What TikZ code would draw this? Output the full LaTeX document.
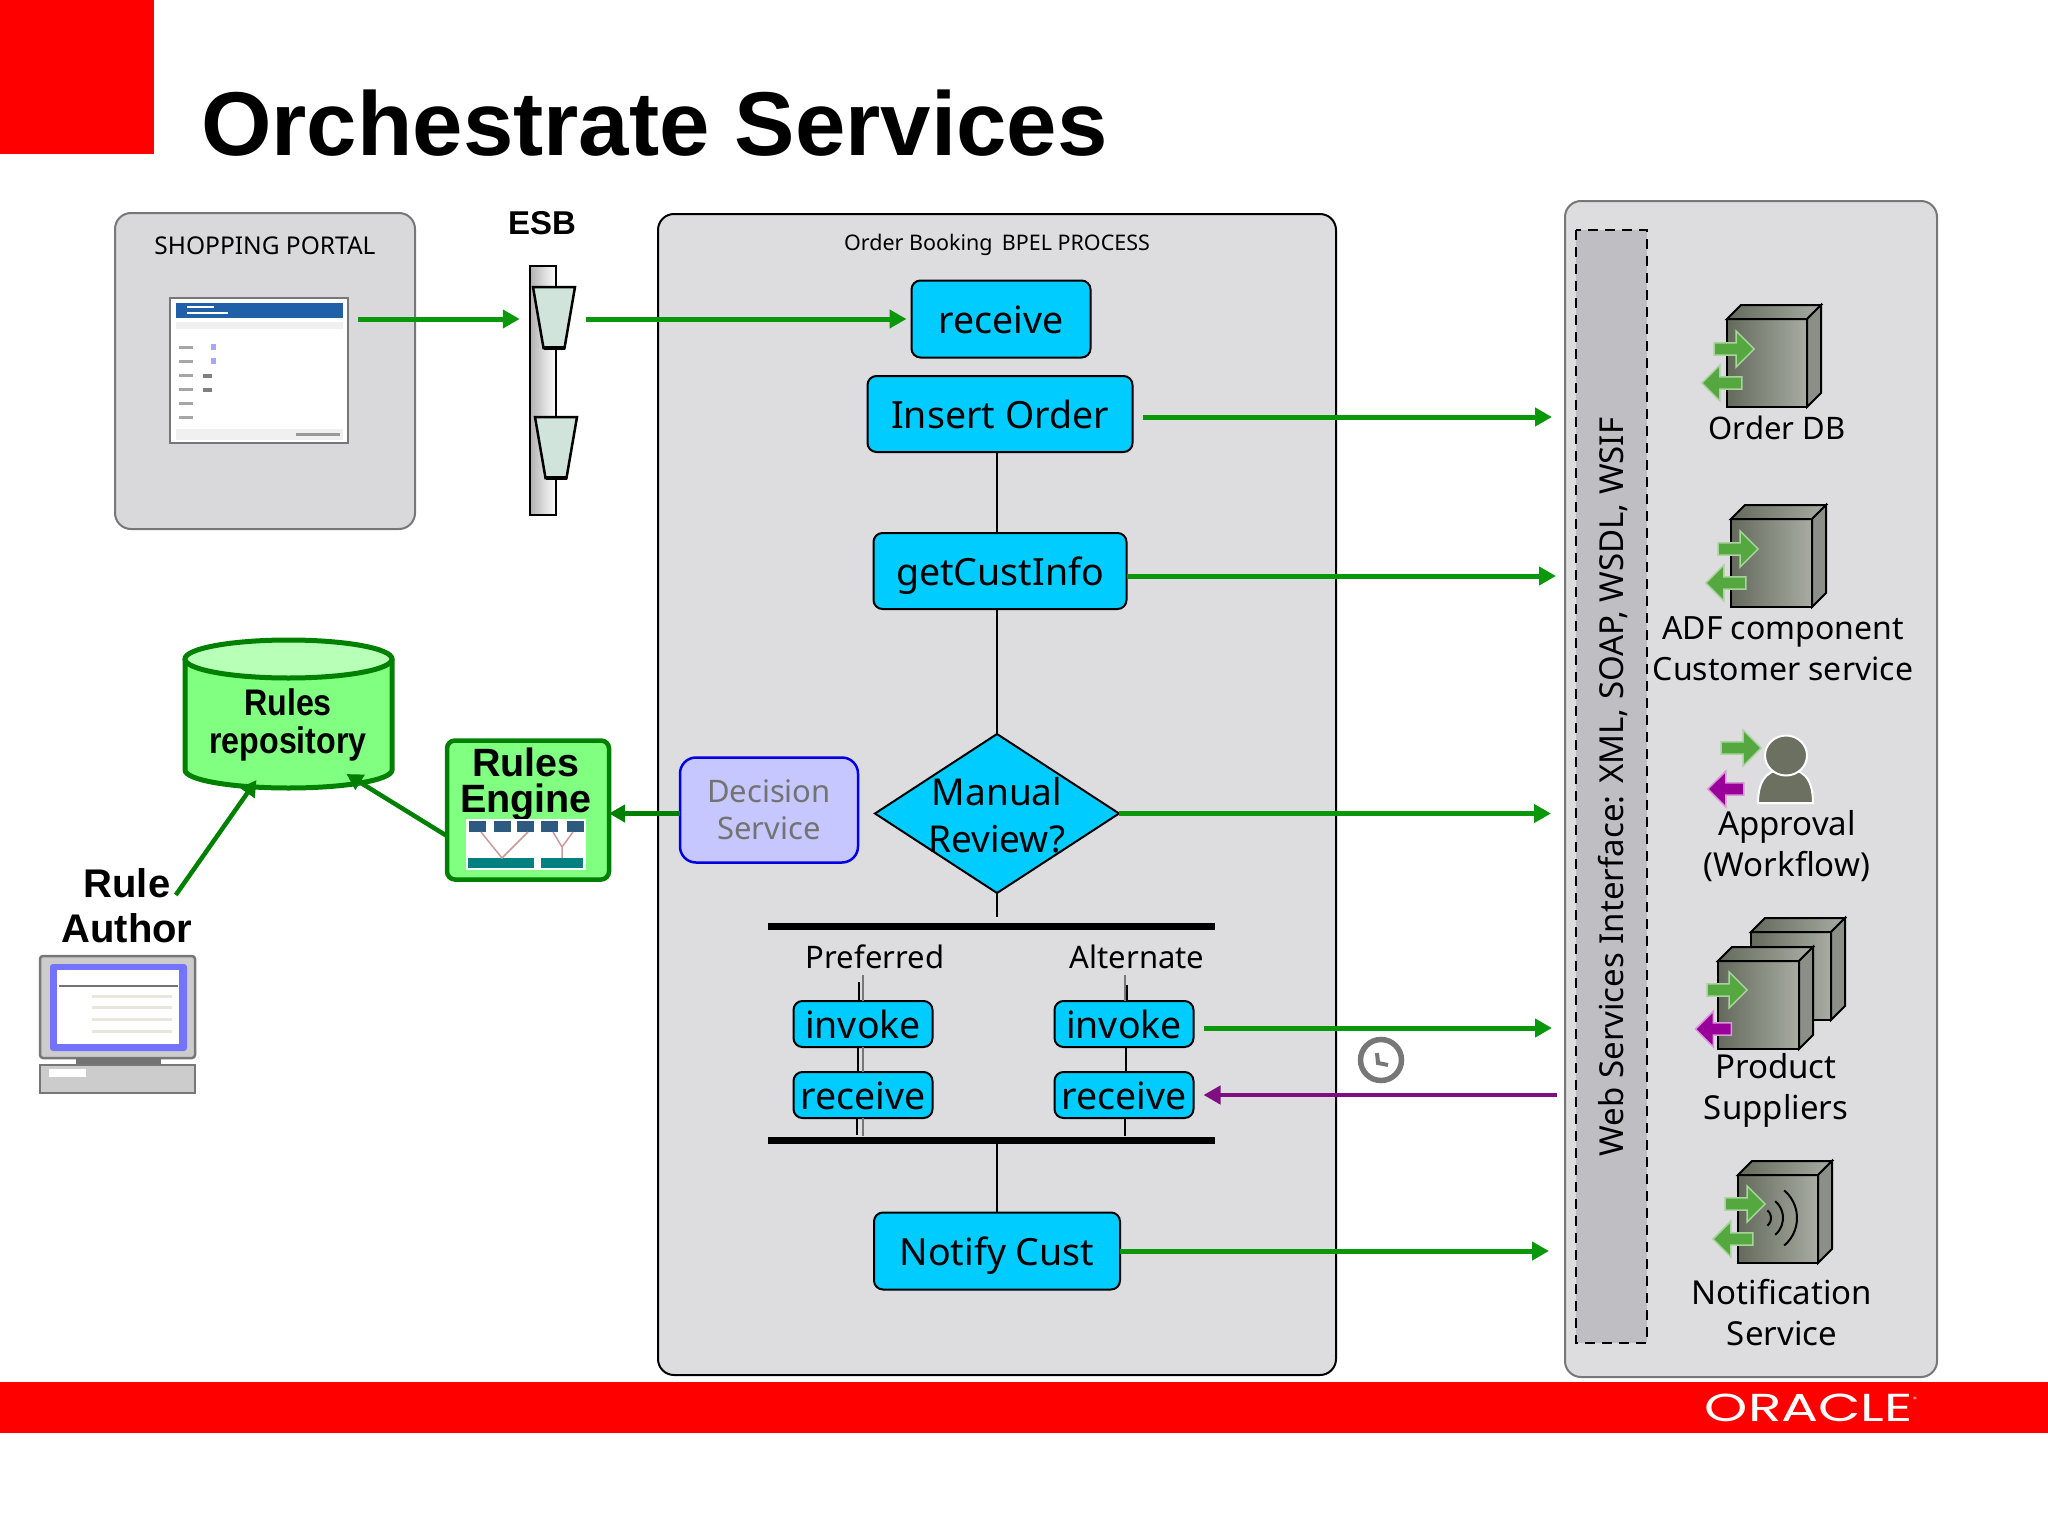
\documentclass[tikz,border=0pt]{standalone}
\usepackage{fontspec}
\setmainfont{Noto Sans}
\newfontfamily\headfont{Liberation Sans}
\newfontfamily\logofont{Poppins}
\usetikzlibrary{arrows.meta,shapes.geometric,shapes.arrows}

\definecolor{oraclered}{HTML}{FF0000}
\definecolor{panelgray}{HTML}{DDDCDE}
\definecolor{edgegray}{HTML}{777777}
\definecolor{stepcyan}{HTML}{00CCFF}
\definecolor{flowgreen}{HTML}{0A970A}
\definecolor{flowpurple}{HTML}{7F0F80}
\definecolor{rulegreen}{HTML}{80FF80}
\definecolor{ruleedge}{HTML}{008000}
\definecolor{repotop}{HTML}{B8FFB8}
\definecolor{icongreen}{HTML}{55A83F}
\definecolor{iconpurple}{HTML}{990099}
\definecolor{persongray}{HTML}{6B7061}
\definecolor{gatefill}{HTML}{D0E4DC}
\definecolor{cubedark}{HTML}{636A5B}
\definecolor{cubelight}{HTML}{A8ACA3}
\definecolor{cubeside}{HTML}{8B8F87}
\definecolor{wsgray}{HTML}{BFBEC2}
\definecolor{shotblue}{HTML}{2060A8}
\definecolor{slate}{HTML}{2F5A80}

\newcommand{\fsz}[2]{\fontsize{#1}{#2}\selectfont}
% front face as a node, top and side hung on its corners
\newcommand{\cubeicon}[5]{
    \node[cubeface,minimum width=#4pt,minimum height=#5pt] (#1) at (#2,#3) {};
    \draw[cubeedge,left color=cubedark,right color=cubelight] (#1.north west) -- ++(14,-14) -- ++(#4,0) -- (#1.north east) -- cycle;
    \draw[cubeedge,fill=cubeside] (#1.north east) -- ++(14,-14) -- ++(0,#5) -- (#1.south east) -- cycle;
}
% tapered ESB gate
\newcommand{\esbgate}[3]{
    \node[minimum width=42pt,minimum height=61pt,inner sep=0pt,outer sep=0pt] (#1) at (#2,#3) {};
    \draw[line width=2.5pt,fill=gatefill] (#1.north west) -- (#1.north east) -- ([xshift=-10.5pt]#1.south east) -- ([xshift=10.5pt]#1.south west) -- cycle;
    \draw[line width=3.5pt] ([xshift=10.5pt]#1.south west) -- ([xshift=-10.5pt]#1.south east);
}

\tikzset{
    panel/.style={draw,rounded corners=16pt,fill=panelgray,line width=2pt,inner sep=0pt,outer sep=0pt},
    stepbox/.style={draw,fill=stepcyan,rounded corners=9pt,line width=2pt,inner sep=0pt,outer sep=0pt,text height=36pt,text depth=8pt,font=\fsz{37.5}{44}},
    thinline/.style={draw=black,line width=2pt},
    flow/.style={draw=flowgreen,line width=5pt,-{Triangle[length=17pt,width=18pt]}},
    backflow/.style={draw=flowpurple,line width=4.5pt,-{Triangle[length=17pt,width=18pt]}},
    ruleflow/.style={draw=ruleedge,line width=4.5pt,-{Triangle[length=16pt,width=17pt]}},
    label/.style={inner sep=0pt,align=center,font=\fsz{33}{41}},
    syncbar/.style={fill=black,inner sep=0pt,minimum width=447pt,minimum height=7pt},
    cubeface/.style={cubeedge,left color=cubedark,right color=cubelight,inner sep=0pt,outer sep=0pt},
    cubeedge/.style={draw=black,line width=2pt},
    goicon/.style={single arrow,fill=icongreen,draw=icongreen!50!white,line width=1.5pt,minimum width=36pt,minimum height=40pt,inner sep=5pt,single arrow head extend=11pt},
    backicon/.style={goicon,shape border rotate=180},
    purpleicon/.style={backicon,fill=iconpurple,draw=iconpurple!40!white,minimum height=36pt},
    headtext/.style={inner sep=0pt,align=center,font=\headfont\bfseries\fsz{40}{45}},
}

\begin{document}
\begin{tikzpicture}[x=1pt,y=-1pt]
    \useasboundingbox (0,0) rectangle (2048,1536);

    % Slide furniture
    \fill[oraclered] (0,0) rectangle (154,154);
    \fill[oraclered] (0,1382) rectangle (2048,1433);
    \node[anchor=base west,inner sep=0pt,font=\headfont\bfseries\fsz{90.6}{90}] (title) at (201,156) {Orchestrate Services};
    \node[inner sep=0pt,text=white,xscale=1.41,font=\logofont\fsz{39}{39}] (logo) at (1811,1408) {ORACLE{\fsz{6}{6}\raisebox{20pt}{®}}};

    % Shopping portal
    \node[panel,draw=edgegray,fill=black!2!panelgray,minimum width=300pt,minimum height=316pt] (portal) at (265,371) {};
    \node[label,font=\fsz{24.5}{30}] (portaltext) at (265,246) {SHOPPING PORTAL};
    \node[draw=edgegray,line width=2.5pt,fill=white,minimum width=178pt,minimum height=145pt,inner sep=0pt] (shot) at (259,370.5) {};
    \fill[shotblue] (176,303) rectangle (343,318);
    \fill[white] (187,306) rectangle (214,308);
    \fill[white] (187,312) rectangle (228,313.5);
    \fill[black!6] (176,322) rectangle (343,329);
    \fill[black!6] (176,429) rectangle (343,440);
    \foreach \rowy in {346,360,374,388,402,416}
        \fill[black!35] (179,\rowy) rectangle (193,\rowy+3);
    \foreach \rowy in {346,360}
        \fill[blue!35] (211,\rowy-2) rectangle (216,\rowy+4);
    \foreach \rowy in {374,388}
        \fill[black!50] (203,\rowy) rectangle (212,\rowy+4);
    \fill[black!40] (296,433) rectangle (340,436);

    % ESB
    \node[headtext,font=\headfont\bfseries\fsz{33}{33}] (esbtext) at (542,223) {ESB};
    \node[draw,line width=2.5pt,left color=black!30,right color=white,minimum width=26pt,minimum height=249pt,inner sep=0pt] (esb) at (543,390.5) {};
    \esbgate{gatetop}{554}{317.5}
    \esbgate{gatelow}{556}{447.5}

    % Order Booking process
    \node[panel,minimum width=678pt,minimum height=1161pt] (process) at (997,794.5) {};
    \node[label,font=\fsz{21.5}{28}] (processtext) at (997,245) {Order Booking\, BPEL PROCESS};
    \node[stepbox,minimum width=179pt,minimum height=77pt] (receive) at (1001,319) {receive};
    \node[stepbox,minimum width=265pt,minimum height=76pt] (insert) at (1000,414) {Insert Order};
    \node[stepbox,minimum width=253pt,minimum height=76pt] (getcust) at (1000,571) {getCustInfo};
    \node[diamond,draw,fill=stepcyan,line width=2pt,inner sep=0pt,outer sep=0pt,aspect=1.53,minimum width=244pt,minimum height=159pt] (review) at (997,813.5) {};
    \node[label,font=\fsz{37}{47}] (reviewtext) at (997,815) {Manual\\Review?};
    \node[draw=blue!90!black,line width=2.5pt,fill=blue!22,rounded corners=16pt,minimum width=178pt,minimum height=105pt,inner sep=0pt,outer sep=0pt,text=black!55,align=center,font=\fsz{31}{37}] (decision) at (769,810) {Decision\\Service};
    \node[syncbar] (forkbar) at (991,926) {};
    \node[syncbar] (joinbar) at (991,1140) {};
    \node[label,font=\fsz{31}{36}] (preferred) at (875,957) {Preferred};
    \node[label,font=\fsz{31}{36}] (alternate) at (1137,957) {Alternate};
    \node[stepbox,minimum width=139pt,minimum height=46pt] (invokel) at (863,1024) {invoke};
    \node[stepbox,minimum width=139pt,minimum height=46pt] (receivel) at (863,1095) {receive};
    \node[stepbox,minimum width=139pt,minimum height=46pt] (invoker) at (1124,1024) {invoke};
    \node[stepbox,minimum width=139pt,minimum height=46pt] (receiver) at (1124,1095) {receive};
    \node[stepbox,minimum width=246pt,minimum height=77pt] (notify) at (997,1251) {Notify Cust};

    % Process connections
    \draw[thinline] (insert.south -| review.north) -- (getcust.north -| review.north);
    \draw[thinline] (getcust.south -| review.north) -- (review.north);
    \draw[thinline] (review.south) -- ++(0,24);
    \draw[thinline] (joinbar.south -| notify.north) -- (notify.north);
    \draw[thinline] ([xshift=-4pt]invokel.north) -- ++(0,-19);
    \draw[edgegray,line width=1.5pt] (invokel.north) -- ++(0,-26);
    \draw[thinline] ([xshift=-5pt]invokel.south) -- ([xshift=-5pt]receivel.north);
    \draw[edgegray,line width=1.5pt] (invokel.south) -- (receivel.north);
    \draw[thinline] ([xshift=-6pt]receivel.south) -- ++(0,17);
    \draw[edgegray,line width=1.5pt] (receivel.south) -- (receivel.south |- joinbar.north);
    \draw[edgegray,line width=1.5pt] ([xshift=1pt]invoker.north) -- ++(0,-26);
    \draw[thinline] ([xshift=3pt]invoker.north) -- ++(0,-16);
    \draw[thinline] ([xshift=2pt]invoker.south) -- ([xshift=2pt]receiver.north);
    \draw[thinline] ([xshift=1pt]receiver.south) -- ([xshift=1pt]receiver.south |- joinbar.north);

    % Clock on the callback
    \node[circle,draw=edgegray,line width=5.5pt,fill=white,minimum size=41pt,inner sep=0pt] (clock) at (1381,1060) {};
    \draw[edgegray,line width=4pt] ([shift={(-4pt,7pt)}]clock.center) -- ([shift={(-3pt,-3pt)}]clock.center) -- ([shift={(7pt,-5pt)}]clock.center);

    % Rules side
    \node[minimum width=207pt,minimum height=148pt,inner sep=0pt,outer sep=0pt] (repo) at (288.5,714) {};
    \draw[ruleedge,line width=5pt,fill=rulegreen] ([yshift=-19pt]repo.north west) -- ([yshift=18pt]repo.south west) arc[start angle=180,end angle=360,x radius=103.5pt,y radius=18pt] -- ([yshift=-19pt]repo.north east);
    \draw[ruleedge,line width=5pt,fill=repotop] ([yshift=-19pt]repo.north) ellipse[x radius=103.5pt,y radius=19pt];
    \node[headtext,xscale=0.87,font=\headfont\bfseries\fsz{37}{38}] (repotext) at (288,725) {Rules\\repository};
    \node[draw=ruleedge,line width=4.5pt,fill=rulegreen,rounded corners=8pt,minimum width=162pt,minimum height=139pt,inner sep=0pt,outer sep=0pt] (engine) at (528,810) {};
    \node[headtext,font=\headfont\bfseries\fsz{39.5}{36}] (enginetext) at (526,784) {Rules\\Engine};
    \node[fill=white,minimum width=120pt,minimum height=51pt,inner sep=0pt] (engineshot) at (526,844) {};
    \foreach \boxx in {477,502,525,549,575}
        \fill[slate] (\boxx-8.5,821) rectangle (\boxx+8.5,832);
    \fill[teal] (468,858) rectangle (534,868);
    \fill[teal] (541,858) rectangle (583,868);
    \draw[red!30!gray!60,line width=1.5pt] (481,832) -- (502,858) -- (528,832);
    \draw[red!30!gray!60,line width=1.5pt] (553,832) -- (562,847) -- (573,832) (562,847) -- (562,858);
    \node[headtext] (ruleauthor) at (127,906) {Rule\\Author};

    % Author workstation
    \node[draw=edgegray,line width=2.5pt,fill=black!20,rounded corners=3pt,minimum width=155pt,minimum height=102pt,inner sep=0pt] (monitor) at (117.5,1007) {};
    \node[fill=blue!55!white,rounded corners=3pt,minimum width=137pt,minimum height=87pt,inner sep=0pt] (screen) at (118.5,1007.5) {};
    \node[fill=white,minimum width=122pt,minimum height=74pt,inner sep=0pt] (screenshot) at (118,1007) {};
    \fill[black!55] (59,985) rectangle (178,987);
    \foreach \rowy in {995,1006,1018,1030}
        \fill[yellow!30!black!15] (92,\rowy) rectangle (172,\rowy+3);
    \node[fill=black!55,minimum width=85pt,minimum height=7pt,inner sep=0pt] (neck) at (118.5,1061.5) {};
    \node[draw=edgegray,line width=2.5pt,fill=black!20,minimum width=155pt,minimum height=28pt,inner sep=0pt] (keyboard) at (117.5,1079) {};
    \fill[white] (49,1069) rectangle (86,1077);

    % Web services panel
    \node[panel,draw=edgegray,minimum width=372pt,minimum height=1176pt] (services) at (1751,789) {};
    \draw[line width=2.5pt,dash pattern=on 10pt off 7pt,fill=wsgray] (1576,230) rectangle (1647,1343);
    \node[rotate=90,inner sep=0pt,font=\fsz{33}{40}] (wsbar) at (1613,787) {Web Services Interface: XML, SOAP, WSDL, WSIF};

    % Services
    \cubeicon{orderdb}{1767}{363}{80}{88}
    \node[goicon] (orderin) at (1731,349) {};
    \node[backicon] (orderout) at (1725,383) {};
    \node[label,font=\fsz{31}{41}] (ordertext) at (1777,428) {Order DB};

    \cubeicon{adf}{1771.5}{563}{81}{88}
    \node[goicon] (adfin) at (1735,549) {};
    \node[backicon] (adfout) at (1729,583) {};
    \node[label,font=\fsz{32}{41}] (adftext) at (1783,649) {ADF component\\Customer service};

    \draw[white,line width=2pt,fill=persongray] (1758,803) .. controls (1758,775) and (1772,769) .. (1786,769) .. controls (1800,769) and (1813,775) .. (1813,803) -- cycle;
    \node[ellipse,draw=white,line width=2pt,fill=persongray,minimum width=42pt,minimum height=40pt,inner sep=0pt] (person) at (1786,755.5) {};
    \node[goicon] (approvalin) at (1738,748) {};
    \node[purpleicon] (approvalout) at (1729,789) {};
    \node[label] (approvaltext) at (1787,846) {Approval\\(Workflow)};

    \cubeicon{supplierback}{1791}{976}{80}{88}
    \cubeicon{supplier}{1758.5}{1005}{81}{88}
    \node[goicon] (supplierin) at (1724,990) {};
    \node[purpleicon] (supplierout) at (1716.5,1029) {};
    \node[label] (suppliertext) at (1776,1090) {Product\\Suppliers};

    \cubeicon{notifier}{1778}{1219}{80}{88}
    \node[goicon] (notifierin) at (1742,1204) {};
    \node[backicon] (notifierout) at (1736,1239) {};
    \foreach \waver in {10,22,36}
        \draw[line width=2pt] ({1761+\waver*0.643},{1218+\waver*0.766}) arc[start angle=-50,end angle=50,radius=\waver pt];
    \node[label] (notifiertext) at (1782,1313) {Notification\\Service};

    % Connections
    \draw[flow,shorten <=9pt,shorten >=9pt] (shot.east |- receive.west) -- (esb.west |- receive.west);
    \draw[flow,shorten <=11pt,shorten >=5pt] (gatetop.east |- receive.west) -- (receive.west);
    \draw[flow,shorten <=10pt,shorten >=13pt] ([yshift=-3pt]insert.east) -- ([yshift=-3pt]insert.east -| services.west);
    \draw[flow,shorten >=9pt] ([yshift=-5pt]getcust.east) -- ([yshift=-5pt]getcust.east -| services.west);
    \draw[flow,shorten >=14pt] (review.east) -- (review.east -| services.west);
    \draw[flow,shorten <=10pt,shorten >=13pt] ([yshift=-4pt]invoker.east) -- ([yshift=-4pt]invoker.east -| services.west);
    \draw[backflow,shorten <=8pt,shorten >=10pt] (services.west |- receiver.east) -- (receiver.east);
    \draw[flow,shorten >=16pt] (notify.east) -- (notify.east -| services.west);
    \draw[ruleflow] (decision.west |- review.east) -- (engine.east |- review.east);
    \draw[ruleflow] ([yshift=-26pt]engine.west) -- ([shift={(58pt,14pt)}]repo.south);
    \draw[ruleflow] ([shift={(-17pt,11pt)}]ruleauthor.east) -- ([shift={(-32pt,8pt)}]repo.south);
\end{tikzpicture}
\end{document}
